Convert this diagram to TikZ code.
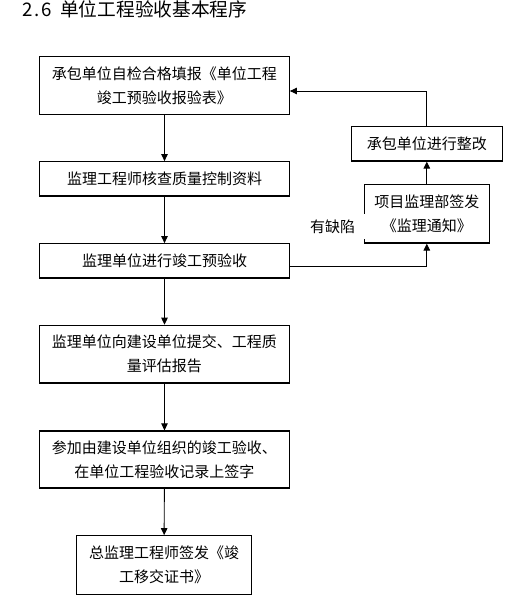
\documentclass[tikz,border=0pt]{standalone}
\usepackage{fontspec}
\setmainfont{Noto Sans CJK SC}
\usetikzlibrary{arrows.meta}
\newcommand{\mychar}[1]{\makebox[9.35pt][c]{#1}}
\tikzset{
  box/.style={draw=black, line width=1.2pt, inner sep=0pt, align=center,
    font=\fontsize{15}{24}\selectfont},
  arr/.style={line width=0.9pt, draw=black, -{Triangle[length=7pt,width=6.5pt]}},
  lbl/.style={fill=white, inner sep=0pt, align=left, font=\fontsize{15}{24}\selectfont},
}
\begin{document}
\begin{tikzpicture}[x=1pt,y=-1pt]
\useasboundingbox[fill=white] (0,0) rectangle (530,598);
\node[anchor=base west, inner sep=0pt, font=\fontsize{18.7}{20}\selectfont] (title) at (22.7,16.8)
  {\mychar{2}\mychar{.}\mychar{6}\mychar{}单位工程验收基本程序};
% left column
\node[box, minimum width=249.6pt, minimum height=57.6pt] (b1) at (164.5,85.5)
  {承包单位自检合格填报《单位工程\\竣工预验收报验表》};
\node[box, minimum width=249.6pt, minimum height=34.3pt] (b2) at (164.5,178.85)
  {监理工程师核查质量控制资料};
\node[box, minimum width=249.6pt, minimum height=34.3pt] (b3) at (164.5,260.85)
  {监理单位进行竣工预验收};
\node[box, minimum width=249.6pt, minimum height=57.7pt] (b6) at (164.5,354.15)
  {监理单位向建设单位提交、工程质\\量评估报告};
\node[box, minimum width=249.6pt, minimum height=57pt] (b7) at (164.5,459.5)
  {参加由建设单位组织的竣工验收、\\在单位工程验收记录上签字};
\node[box, minimum width=174.6pt, minimum height=58.6pt] (b8) at (164,565)
  {总监理工程师签发《竣\\工移交证书》};
% right column
\node[box, minimum width=151pt, minimum height=34.7pt] (b5) at (426.8,143.65)
  {承包单位进行整改};
\node[box, minimum width=125pt, minimum height=58.3pt] (b4) at (426.8,213.85)
  {项目监理部签发\\《监理通知》};
\node[lbl, text width=56pt, minimum height=25pt] (lab) at (338,226.5) {有缺陷};
% connectors
\draw[arr] (b1) -- (b2);
\draw[arr] (b2) -- (b3);
\draw[arr] (b3) -- (b6);
\draw[arr] (b6) -- (b7);
\draw[arr] (b7) -- (b8);
\draw[arr] ([yshift=-5.7pt]b3.east) -| (b4.south);
\draw[arr] (b4) -- (b5);
\draw[arr] (b5.north) |- ([yshift=-5.5pt]b1.east);
\end{tikzpicture}
\end{document}
